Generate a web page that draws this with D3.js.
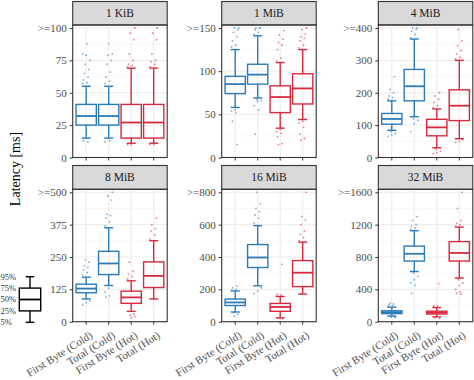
<!DOCTYPE html>
<html lang="en">
<head>
    <meta charset="UTF-8">
    <title>Latency boxplots</title>
    <script src="https://d3js.org/d3.v7.min.js"></script>
    <style>
        body { margin: 0; background: white; }
        svg { display: block; }
        text { font-family: "Liberation Serif", "DejaVu Serif", serif; }
    </style>
</head>
<body>
    <svg width="474" height="380"></svg>

    <script>
        // panel titles and categories
        const sizes = ["1 KiB", "1 MiB", "4 MiB", "8 MiB", "16 MiB", "32 MiB"];
        const categories = ["First Byte (Cold)", "Total (Cold)", "First Byte (Hot)", "Total (Hot)"];
        const yMax = [100, 150, 400, 500, 800, 1600];
        const yTicks = [
            [0, 25, 50, 75, 100],
            [0, 50, 100, 150],
            [0, 100, 200, 300, 400],
            [0, 125, 250, 375, 500],
            [0, 200, 400, 600, 800],
            [0, 400, 800, 1200, 1600]
        ];

        // percentiles per panel, per category
        const p05 = [[15, 15, 11, 11], [58, 69, 34, 44], [84, 126, 30, 58], [88, 140, 40, 88], [60, 222, 24, 171], [70, 620, 60, 540]];
        const p25 = [[25, 25, 15, 15], [74, 85, 52, 62], [103, 175, 67, 114], [112, 182, 71, 132], [100, 335, 64, 217], [100, 750, 95, 750]];
        const p50 = [[32, 32, 27, 27], [85, 96, 70, 80], [119, 220, 93, 160], [128, 225, 94, 177], [119, 397, 91, 303], [118, 840, 112, 850]];
        const p75 = [[41, 41, 41, 41], [94, 108, 83, 97], [136, 272, 118, 209], [145, 272, 118, 231], [140, 477, 113, 378], [135, 935, 130, 990]];
        const p95 = [[55, 55, 69, 69], [125, 141, 110, 125], [175, 366, 150, 300], [172, 363, 158, 313], [190, 594, 156, 492], [180, 1125, 175, 1170]];

        // points outside the whiskers (capped at the panel max)
        const outliers = [
            [[57, 58, 60, 62, 65, 68, 72, 75, 79, 80, 88, 13, 12],
             [57, 59, 62, 66, 72, 75, 79, 80, 88, 12, 13],
             [70, 71, 72, 75, 80, 91, 96, 100, 10, 10],
             [70, 72, 74, 75, 80, 91, 96, 100, 10, 10]],
            [[128, 130, 135, 140, 145, 148, 150, 150, 55, 54, 52, 42, 15],
             [143, 145, 148, 150, 150, 150, 67, 66, 65, 60, 55, 27],
             [112, 115, 125, 130, 133, 137, 142, 147, 32, 30, 28, 24, 16, 15],
             [127, 130, 135, 138, 140, 143, 148, 150, 42, 40, 35, 27, 22, 20]],
            [[180, 185, 190, 200, 210, 250, 80, 75, 70, 65],
             [370, 380, 390, 395, 400, 400, 120, 115, 105, 80],
             [155, 160, 170, 180, 190, 200, 25, 20, 15, 12],
             [305, 310, 320, 330, 345, 360, 395, 55, 50, 47]],
            [[180, 190, 200, 210, 215, 230, 240, 80, 75, 65],
             [370, 385, 400, 410, 415, 470, 485, 500, 130, 115, 100, 95],
             [165, 175, 185, 195, 230, 30, 25, 20, 15],
             [320, 335, 350, 360, 375, 400]],
            [[195, 200, 210, 220, 55, 45, 35],
             [610, 640, 660, 680, 700, 730, 800, 210, 190, 175],
             [160, 165, 170, 355, 20, 18],
             [500, 520, 540, 560, 600, 630, 650, 800]],
            [[190, 200, 210, 220, 230, 60, 55, 50],
             [1140, 1160, 1180, 1200, 1250, 1300, 600, 560, 520, 480, 450, 350],
             [180, 195, 200, 470, 50, 40],
             [1180, 1200, 1220, 1250, 1400, 1600, 520, 480, 450, 400, 370, 350, 340]]
        ];

        const legendLevels = ["95%", "75%", "50%", "25%", "5%"];

        const blue = "#2b7bba";
        const red = "#d7283e";
        const colorOf = i => (i < 2 ? blue : red);

        const svg = d3.select("svg");

        const colX = [72.7, 221.7, 378.3];
        const panelW = 94.5;
        const rows = [
            { stripTop: 1.5, top: 25, bottom: 157.5 },
            { stripTop: 165.5, top: 189.3, bottom: 321.7 }
        ];

        sizes.forEach((size, p) => {
            const r = rows[Math.floor(p / 3)];
            const x0 = colX[p % 3];

            const x = d3.scaleBand().domain(categories)
                .range([x0, x0 + panelW]).paddingOuter(0.1).paddingInner(0);
            const bw = x.bandwidth();
            const cx = c => x(c) + bw / 2;
            const y = d3.scaleLinear().domain([0, yMax[p]]).range([r.bottom, r.top + 3]);

            const g = svg.append("g");

            // strip
            g.append("rect").attr("x", x0).attr("y", r.stripTop)
                .attr("width", panelW).attr("height", r.top - r.stripTop)
                .attr("fill", "#d9d9d9").attr("stroke", "#333").attr("stroke-width", 1.1);
            g.append("text").attr("x", x0 + panelW / 2).attr("y", (r.stripTop + r.top) / 2 + 4)
                .attr("text-anchor", "middle").attr("font-size", 11.5).attr("fill", "#1a1a1a").text(size);

            // grid
            const ticks = yTicks[p];
            const minor = ticks.slice(1).map((t, i) => (t + ticks[i]) / 2);
            g.selectAll(".minor").data(minor).join("line")
                .attr("x1", x0).attr("x2", x0 + panelW)
                .attr("y1", d => y(d)).attr("y2", d => y(d))
                .attr("stroke", "#f2f2f2").attr("stroke-width", 0.6);
            g.selectAll(".major").data(ticks).join("line")
                .attr("x1", x0).attr("x2", x0 + panelW)
                .attr("y1", d => y(d)).attr("y2", d => y(d))
                .attr("stroke", "#ebebeb").attr("stroke-width", 1);
            g.selectAll(".vgrid").data(categories).join("line")
                .attr("x1", d => cx(d)).attr("x2", d => cx(d))
                .attr("y1", r.top).attr("y2", r.bottom)
                .attr("stroke", "#ebebeb").attr("stroke-width", 1);

            // outlier points
            categories.forEach((c, i) => {
                g.selectAll(null).data(outliers[p][i]).join("circle")
                    .attr("cx", (d, k) => cx(c) + ((k * 5) % 9 - 4) * 0.9)
                    .attr("cy", d => y(Math.min(d, yMax[p])))
                    .attr("r", 0.9)
                    .attr("fill", colorOf(i)).attr("opacity", 0.6);
            });

            // boxes
            categories.forEach((c, i) => {
                const col = colorOf(i);
                const xc = cx(c);
                const half = bw * 0.45;
                const cap = bw * 0.2;
                const bg = g.append("g").attr("stroke", col).attr("stroke-width", 1.4).attr("fill", "none");
                bg.append("line").attr("x1", xc).attr("x2", xc).attr("y1", y(p95[p][i])).attr("y2", y(p75[p][i]));
                bg.append("line").attr("x1", xc).attr("x2", xc).attr("y1", y(p25[p][i])).attr("y2", y(p05[p][i]));
                bg.append("line").attr("x1", xc - cap).attr("x2", xc + cap).attr("y1", y(p95[p][i])).attr("y2", y(p95[p][i]));
                bg.append("line").attr("x1", xc - cap).attr("x2", xc + cap).attr("y1", y(p05[p][i])).attr("y2", y(p05[p][i]));
                bg.append("rect").attr("x", xc - half).attr("width", half * 2)
                    .attr("y", y(p75[p][i])).attr("height", y(p25[p][i]) - y(p75[p][i]))
                    .attr("fill", "white").attr("fill-opacity", 0.01);
                bg.append("line").attr("x1", xc - half).attr("x2", xc + half)
                    .attr("y1", y(p50[p][i])).attr("y2", y(p50[p][i])).attr("stroke-width", 1.8);
            });

            // panel border
            g.append("rect").attr("x", x0).attr("y", r.top)
                .attr("width", panelW).attr("height", r.bottom - r.top)
                .attr("fill", "none").attr("stroke", "#333").attr("stroke-width", 1.1);

            // y axis
            const yAxis = d3.axisLeft(y).tickValues(ticks).tickSize(3).tickPadding(3)
                .tickFormat(d => (d === yMax[p] ? ">=" + d : d));
            const ya = g.append("g").attr("transform", `translate(${x0},0)`).call(yAxis);
            ya.select(".domain").remove();
            ya.selectAll("line").attr("stroke", "#333");
            ya.selectAll("text").attr("font-size", 11).attr("fill", "#4d4d4d")
                .style("font-family", '"Liberation Serif", serif');

            // x axis ticks
            const xAxis = d3.axisBottom(x).tickSize(3).tickFormat("");
            const xa = g.append("g").attr("transform", `translate(0,${r.bottom})`).call(xAxis);
            xa.select(".domain").remove();
            xa.selectAll("line").attr("stroke", "#333");

            if (p >= 3) {
                g.selectAll(".xl").data(categories).join("text")
                    .attr("transform", d => `translate(${cx(d) + 3},${r.bottom + 9}) rotate(-32)`)
                    .attr("text-anchor", "end").attr("dy", "0.7em")
                    .attr("font-size", 11).attr("fill", "#4d4d4d")
                    .text(d => d);
            }
        });

        // y title
        svg.append("text").attr("transform", "translate(20,169) rotate(-90)")
            .attr("text-anchor", "middle").attr("font-size", 14).attr("fill", "#000")
            .text("Latency [ms]");

        // legend box
        const ly = d3.scaleBand().domain(legendLevels).range([271, 328]).padding(0);
        const lyc = d => ly(d) + ly.bandwidth() / 2;
        const lg = svg.append("g").attr("stroke", "#000").attr("stroke-width", 1.4).attr("fill", "none");
        lg.append("line").attr("x1", 30).attr("x2", 30).attr("y1", lyc("95%")).attr("y2", lyc("75%"));
        lg.append("line").attr("x1", 30).attr("x2", 30).attr("y1", lyc("25%")).attr("y2", lyc("5%"));
        lg.append("line").attr("x1", 25.7).attr("x2", 34.3).attr("y1", lyc("95%")).attr("y2", lyc("95%"));
        lg.append("line").attr("x1", 25.7).attr("x2", 34.3).attr("y1", lyc("5%")).attr("y2", lyc("5%"));
        lg.append("rect").attr("x", 19.3).attr("width", 21.4)
            .attr("y", lyc("75%")).attr("height", lyc("25%") - lyc("75%"));
        lg.append("line").attr("x1", 19.3).attr("x2", 40.7).attr("y1", lyc("50%")).attr("y2", lyc("50%")).attr("stroke-width", 1.8);
        svg.selectAll(".ll").data(legendLevels).join("text")
            .attr("x", 0.5).attr("y", d => lyc(d)).attr("dy", "0.35em")
            .attr("font-size", 8.5).attr("fill", "#333").text(d => d);
    </script>
</body>
</html>
